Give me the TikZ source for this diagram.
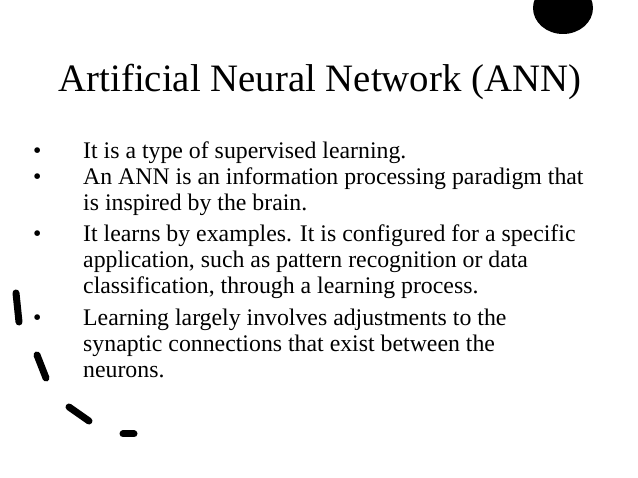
\documentclass[tikz,border=0pt]{standalone}
\usepackage{fontspec}
\setmainfont{Liberation Serif}
\begin{document}
\begin{tikzpicture}[x=1pt,y=-1pt,
  body/.style={anchor=base west,inner sep=0pt,font=\fontsize{23.8}{28}\selectfont},
  bul/.style={anchor=base west,inner sep=0pt,font=\fontsize{23.8}{28}\selectfont},
  dashstroke/.style={line width=7pt,line cap=round}]
\useasboundingbox (0,0) rectangle (638,478);
\fill[white] (0,0) rectangle (638,478);
\fill[black] (563,8) ellipse (30 and 26);
\node[anchor=base,inner sep=0pt,font=\fontsize{38.8}{44}\selectfont] (title) at (320,92) {Artificial Neural Network (ANN)};
\foreach \y in {159,185,242,326} \node[bul] at (33,\y) {•};
\node[body] (l1) at (83,159) {It is a type of supervised learning.};
\node[body] (l2) at (83,185) {An ANN is an information processing paradigm that};
\node[body] (l3) at (83,211) {is inspired by the brain.};
\node[body] (l4) at (83,242) {It learns by examples. It is configured for a specific};
\node[body] (l5) at (83,268) {application, such as pattern recognition or data};
\node[body] (l6) at (83,294) {classification, through a learning process.};
\node[body] (l7) at (83,326) {Learning largely involves adjustments to the};
\node[body] (l8) at (83,352) {synaptic connections that exist between the};
\node[body] (l9) at (83,378) {neurons.};
\draw[dashstroke] (16,293) -- (19,322);
\draw[dashstroke] (37,355) -- (46,378);
\draw[dashstroke] (69,407) -- (89,421);
\draw[dashstroke] (123,434) -- (134,434);
\end{tikzpicture}
\end{document}
